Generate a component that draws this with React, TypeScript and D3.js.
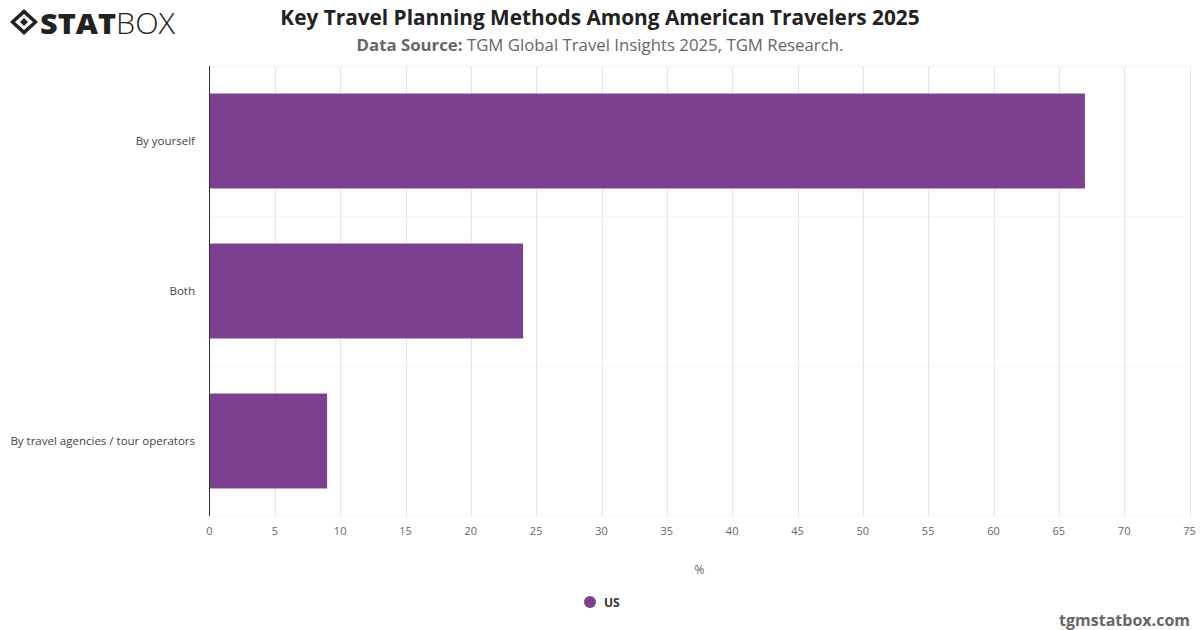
import React from "react";
import * as d3 from "d3";

const categories = ["By yourself", "Both", "By travel agencies / tour operators"];
const usValues = [67, 24, 9];
const xTicks = [0, 5, 10, 15, 20, 25, 30, 35, 40, 45, 50, 55, 60, 65, 70, 75];
const seriesName = "US";
const title = "Key Travel Planning Methods Among American Travelers 2025";
const sourceLabel = "Data Source:";
const sourceText = " TGM Global Travel Insights 2025, TGM Research.";
const axisTitle = "%";
const watermark = "tgmstatbox.com";

const W = 1200;
const H = 630;
const M = { left: 209.5, right: 1189.5, top: 66, bottom: 516 };
const color = "#7b418f";
const font = "'Open Sans', 'DejaVu Sans', sans-serif";

export default function App() {
  const x = d3.scaleLinear().domain([0, 75]).range([M.left, M.right]);
  const y = d3
    .scaleBand<string>()
    .domain(categories)
    .range([M.top, M.bottom])
    .paddingInner(0.367)
    .paddingOuter(0.1835);
  const step = y.step();
  const boundaries = d3.range(categories.length + 1).map((i) => M.top + i * step);

  return (
    <svg
      width={W}
      height={H}
      style={{ position: "absolute", left: 0, top: 0, background: "#fff" }}
      fontFamily={font}
    >
      {/* Logo */}
      <g transform="translate(10,9)">
        <path d="M14 0 L28 13 L14 26 L0 13 Z" fill="#222" />
        <path d="M14 5 L23 13 L14 21 L5 13 Z" fill="#fff" />
        <path d="M14 9 L18 13 L14 17 L10 13 Z" fill="#222" />
        <text x={30} y={24.5} fontSize={29} fontWeight={800} fill="#222" textLength={135} lengthAdjust="spacingAndGlyphs">
          STAT
          <tspan fontWeight={300}>BOX</tspan>
        </text>
      </g>

      {/* Title */}
      <text x={600} y={25} textAnchor="middle" fontSize={20.8} fontWeight={700} fill="#222">
        {title}
      </text>
      <text x={600} y={51} textAnchor="middle" fontSize={16.8} fill="#666">
        <tspan fontWeight={700}>{sourceLabel}</tspan>
        {sourceText}
      </text>

      {/* Vertical grid lines */}
      {xTicks.map((t) =>
        t === 0 ? null : (
          <line
            key={"g" + t}
            x1={Math.round(x(t)) + 0.5}
            x2={Math.round(x(t)) + 0.5}
            y1={M.top}
            y2={M.bottom}
            stroke="#e6e6e6"
            strokeWidth={1}
          />
        )
      )}
      {/* Horizontal dotted boundaries */}
      {boundaries.map((b, i) => (
        <line
          key={"h" + i}
          x1={M.left}
          x2={M.right}
          y1={b + 0.5}
          y2={b + 0.5}
          stroke="#d8d8d8"
          strokeWidth={1}
          strokeDasharray="1,3"
        />
      ))}

      {/* Bars */}
      {categories.map((c, i) => (
        <rect
          key={c}
          x={x(0)}
          y={y(c)}
          width={x(usValues[i]) - x(0)}
          height={y.bandwidth()}
          fill={color}
        />
      ))}

      {/* Y axis line */}
      <line x1={M.left} x2={M.left} y1={M.top} y2={M.bottom} stroke="#333" strokeWidth={1} />

      {/* Category labels */}
      {categories.map((c) => (
        <text
          key={"l" + c}
          x={195}
          y={(y(c) as number) + y.bandwidth() / 2 + 4}
          textAnchor="end"
          fontSize={11.5}
          fill="#444"
        >
          {c}
        </text>
      ))}

      {/* X tick labels */}
      {xTicks.map((t) => (
        <text key={"t" + t} x={x(t)} y={535} textAnchor="middle" fontSize={11} fill="#666">
          {t}
        </text>
      ))}

      {/* Axis title */}
      <text x={(M.left + M.right) / 2} y={574} textAnchor="middle" fontSize={12} fill="#666">
        {axisTitle}
      </text>

      {/* Legend */}
      <circle cx={590} cy={602} r={6} fill={color} />
      <text x={604} y={607} fontSize={12} fontWeight={700} fill="#333">
        {seriesName}
      </text>

      {/* Watermark */}
      <text x={1190} y={626} textAnchor="end" fontSize={16} fontWeight={700} fill="#666">
        {watermark}
      </text>
    </svg>
  );
}
